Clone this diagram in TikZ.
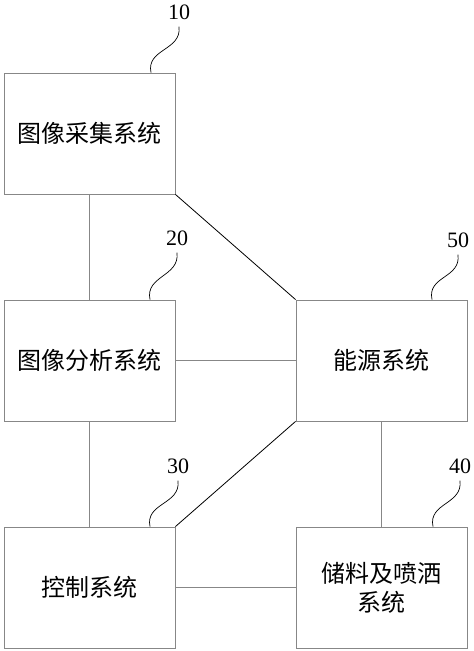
\documentclass[tikz,border=0pt]{standalone}
\usepackage{fontspec}
\setmainfont{Liberation Serif}
\newfontfamily\cjk{Noto Sans CJK SC}
\usepackage{tikz}
\usetikzlibrary{calc}
\definecolor{box-gray}{RGB}{135,135,135}

\begin{document}
\begin{tikzpicture}
[
  x=1pt, y=1pt,
  box/.style={rectangle,draw=box-gray,line width=0.8pt,minimum width=171pt,minimum height=121pt,inner sep=0pt,align=center,font=\cjk\fontsize{24}{29}\selectfont},
  num/.style={inner xsep=0pt,inner ysep=7pt,font=\fontsize{22}{22}\selectfont},
  link/.style={draw=box-gray,line width=0.8pt},
  cross/.style={draw=black,line width=0.8pt},
  lead/.style={draw=black,line width=0.7pt},
]
\useasboundingbox (0,0) rectangle (474,651);

\node[box] (capture) at (89.5,517.5) {图像采集系统};
\node[box] (analysis) at (89.5,290.5) {图像分析系统};
\node[box] (power) at (381.5,290.5) {能源系统};
\node[box] (control) at (89.5,63.5) {控制系统};
\node[box] (storage) at (381.5,63.5) {储料及喷洒\\系统};

\node[num] (n10) at (179,639) {10};
\node[num] (n20) at (177,413) {20};
\node[num] (n50) at (458,411) {50};
\node[num] (n30) at (178,185) {30};
\node[num] (n40) at (460,185) {40};

\draw[link] (capture) -- (analysis);
\draw[link] (analysis) -- (power);
\draw[link] (analysis) -- (control);
\draw[link] (power) -- (storage);
\draw[link] (control) -- (storage);
\draw[cross] (capture.south east) -- (power.north west);
\draw[cross] (power.south west) -- (control.north east);

\draw[lead] ($(capture.north)+(61.5,0)$) .. controls +(-5,24) and +(3,-24) .. (n10.south);
\draw[lead] ($(analysis.north)+(60.5,0)$) .. controls +(-5,24) and +(3,-24) .. (n20.south);
\draw[lead] ($(power.north)+(50.5,0)$) .. controls +(-5,24) and +(3,-24) .. (n50.south);
\draw[lead] ($(control.north)+(60.5,0)$) .. controls +(-5,24) and +(3,-24) .. (n30.south);
\draw[lead] ($(storage.north)+(51.5,0)$) .. controls +(-5,24) and +(3,-24) .. (n40.south);
\end{tikzpicture}
\end{document}
